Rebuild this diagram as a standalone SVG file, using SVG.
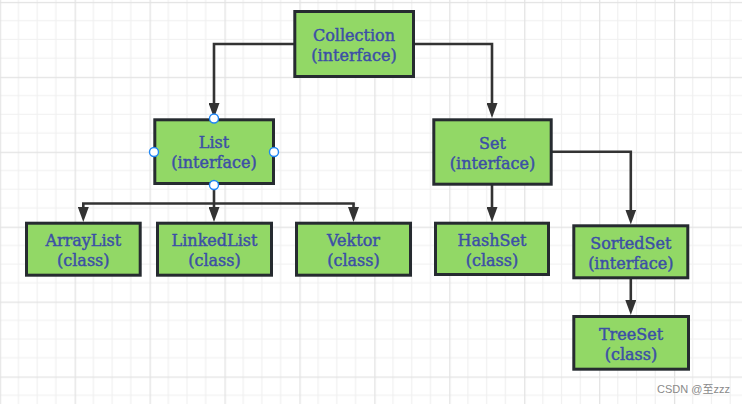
<svg xmlns="http://www.w3.org/2000/svg" width="742" height="404" viewBox="0 0 742 404">
<style>
.node rect{fill:#92d866;stroke:#262b30;stroke-width:3}
.node text{font-family:"DejaVu Serif","Liberation Serif",serif;font-size:16px;font-weight:normal;fill:#3c4fa6;stroke:#3c4fa6;stroke-width:0.45;text-anchor:middle}
.edge{fill:none;stroke:#333;stroke-width:2.6}
.handle{fill:#fff;stroke:#1f86f5;stroke-width:1.4}
.wm{font-family:"Liberation Sans","Noto Sans CJK SC",sans-serif;font-size:11px;fill:#8a8a8a}
</style>
<defs>
<pattern id="grid" patternUnits="userSpaceOnUse" x="-0.3" y="1.9" width="74.92" height="74.92">
<path d="M18.73,0V74.92M37.46,0V74.92M56.19,0V74.92M0,18.73H74.92M0,37.46H74.92M0,56.19H74.92" stroke="#f0f0f0" stroke-width="1.2" fill="none"/>
<path d="M0.6,0V74.92M0,0.6H74.92" stroke="#e3e3e3" stroke-width="1.4" fill="none"/>
</pattern>
<marker id="arr" markerUnits="userSpaceOnUse" markerWidth="15" markerHeight="11" viewBox="0 0 15 11" refX="3" refY="5.5" orient="auto">
<path d="M0,0 L15,5.5 L0,11 z" fill="#333"/>
</marker>
</defs>
<rect width="742" height="404" fill="#fff"/>
<rect width="742" height="404" fill="url(#grid)"/>
<g id="connectors">
<path class="edge" d="M294,44 H214 V106" marker-end="url(#arr)"/>
<path class="edge" d="M414,44 H492 V106" marker-end="url(#arr)"/>
<path class="edge" d="M214,185 V210" marker-end="url(#arr)"/>
<path class="edge" d="M82,203.5 H354.8"/>
<path class="edge" d="M83.3,203.5 V210" marker-end="url(#arr)"/>
<path class="edge" d="M353.5,203.5 V210" marker-end="url(#arr)"/>
<path class="edge" d="M492,185 V210" marker-end="url(#arr)"/>
<path class="edge" d="M552,151.7 H630.8 V212.5" marker-end="url(#arr)"/>
<path class="edge" d="M630.8,279 V303" marker-end="url(#arr)"/>
</g>
<g id="collection" class="node"><rect x="294.8" y="11.5" width="118.7" height="65"/><text x="354" y="41">Collection</text><text x="354" y="61">(interface)</text></g>
<g id="list" class="node"><rect x="154.8" y="119.8" width="118.7" height="63.7"/><text x="214" y="148">List</text><text x="214" y="168">(interface)</text></g>
<g id="arraylist" class="node"><rect x="26.5" y="223.2" width="113.7" height="52"/><text x="83.3" y="246">ArrayList</text><text x="83.3" y="266">(class)</text></g>
<g id="linkedlist" class="node"><rect x="157.5" y="223.2" width="114" height="52"/><text x="214.5" y="246">LinkedList</text><text x="214.5" y="266">(class)</text></g>
<g id="vektor" class="node"><rect x="296.5" y="223.2" width="114" height="52"/><text x="353.5" y="246">Vektor</text><text x="353.5" y="266">(class)</text></g>
<g id="set" class="node"><rect x="433.8" y="119.8" width="117.4" height="64.4"/><text x="492.5" y="148.5">Set</text><text x="492.5" y="168.5">(interface)</text></g>
<g id="hashset" class="node"><rect x="435.5" y="223.2" width="113" height="51.3"/><text x="492" y="246">HashSet</text><text x="492" y="266">(class)</text></g>
<g id="sortedset" class="node"><rect x="573.8" y="225.8" width="114" height="52"/><text x="630.8" y="248.5">SortedSet</text><text x="630.8" y="268.5">(interface)</text></g>
<g id="treeset" class="node"><rect x="573.8" y="316.5" width="114.7" height="52.7"/><text x="631" y="339.5">TreeSet</text><text x="631" y="359.5">(class)</text></g>
<g id="handles">
<circle class="handle" cx="214" cy="118.5" r="4.5"/>
<circle class="handle" cx="214" cy="185" r="4.5"/>
<circle class="handle" cx="154" cy="152" r="4.5"/>
<circle class="handle" cx="274" cy="152" r="4.5"/>
</g>
<text class="wm" x="657" y="393">CSDN @至zzz</text>
</svg>
